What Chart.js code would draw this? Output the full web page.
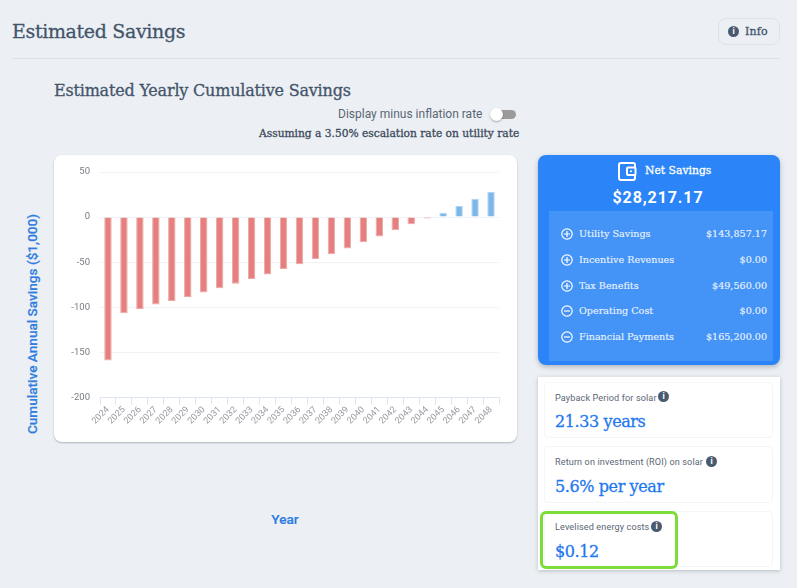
<!DOCTYPE html>
<html>
<head>
<meta charset="utf-8">
<title>Estimated Savings</title>
<script src="https://cdn.jsdelivr.net/npm/chart.js@4"></script>
<style>
html,body{margin:0;padding:0;width:797px;height:588px;overflow:hidden;background:#ecf0f4;}
body{position:relative;font-family:"DejaVu Serif",serif;color:#44546a;}
.t{position:absolute;white-space:nowrap;line-height:1;}
.bold{-webkit-text-stroke:.3px currentColor;}
.sans{font-family:Roboto,sans-serif;}
.box{position:absolute;box-sizing:border-box;}
.inf{position:absolute;width:11px;height:11px;border-radius:50%;background:#4a5a70;color:#fff;font:bold 8.5px/11px Roboto,sans-serif;text-align:center;}
.axis{position:absolute;white-space:nowrap;line-height:1;font:500 13.6px Roboto,sans-serif;color:#2f7de0;-webkit-text-stroke:.2px currentColor;}
svg.ic{position:absolute;}
canvas{display:block;}
</style>
</head>
<body>
<div class="t bold" style="left:12px;top:22px;font-size:19px;letter-spacing:-.35px">Estimated Savings</div>
<div class="box" style="left:12px;top:58px;width:768px;height:1px;background:#dce1e6"></div>
<div class="box" style="left:718px;top:18px;width:62px;height:27px;border:1px solid #dde2e8;border-radius:8px"></div>
<div class="inf" style="left:728px;top:26px">i</div>
<div class="t bold" style="left:745px;top:26px;font-size:11px;letter-spacing:.2px">Info</div>

<div class="t bold" style="left:54px;top:83px;font-size:16px;letter-spacing:-.2px">Estimated Yearly Cumulative Savings</div>
<div class="t sans" style="left:338px;top:108px;font-size:12px;color:#5b6675">Display minus inflation rate</div>
<div class="box" style="left:496px;top:110px;width:20px;height:9px;border-radius:5px;background:#9b9b9b"></div>
<div class="box" style="left:490px;top:108px;width:13px;height:13px;border-radius:50%;background:#fff;box-shadow:0 1px 2px rgba(0,0,0,.3)"></div>
<div class="t bold" style="left:259px;top:129px;font-size:10.7px;letter-spacing:-.02px;color:#3c4a5c">Assuming a 3.50% escalation rate on utility rate</div>

<div class="box" style="left:54px;top:155px;width:463px;height:287px;background:#fff;border-radius:8px;box-shadow:0 1px 2px rgba(60,70,90,.35)">
<canvas id="savingsChart" width="463" height="287"></canvas></div>
<div class="axis" style="left:32px;top:324px;transform:translate(-50%,-50%) rotate(-90deg)">Cumulative Annual Savings ($1,000)</div>
<div class="axis" style="left:285px;top:519px;transform:translate(-50%,-50%)">Year</div>

<div class="box" style="left:538px;top:155px;width:242px;height:210px;background:#2b85f8;border-radius:8px;box-shadow:0 2px 5px rgba(60,70,90,.35)"></div>
<div class="box" style="left:549px;top:211px;width:224px;height:150px;background:#4493f6"></div>
<svg class="ic" style="left:618px;top:162px" width="19" height="19" viewBox="0 0 19 19" fill="none" stroke="#fff" stroke-width="2"><path d="M17 5V3a2 2 0 0 0-2-2H3a2 2 0 0 0-2 2v13a2 2 0 0 0 2 2h12a2 2 0 0 0 2-2v-3"/><rect x="9" y="5.5" width="8.5" height="7.5" rx="1"/><circle cx="13" cy="9.2" r="1" fill="#fff" stroke="none"/></svg>
<div class="t bold" style="left:645px;top:166px;font-size:10.8px;color:#fff">Net Savings</div>
<div class="t sans" style="left:538px;width:240px;text-align:center;top:190px;font-size:16px;font-weight:700;color:#fff;letter-spacing:.9px">$28,217.17</div>
<div id="rows"></div>

<div class="box" style="left:538px;top:377px;width:242px;height:193px;background:#fff;box-shadow:0 1px 4px rgba(60,70,90,.3)"></div>
<div class="box" style="left:544px;top:382px;width:229px;height:56px;border:1px solid #f3f5f7;border-radius:4px"></div>
<div class="box" style="left:544px;top:446px;width:229px;height:57px;border:1px solid #f3f5f7;border-radius:4px"></div>
<div class="box" style="left:544px;top:511px;width:229px;height:56px;border:1px solid #f3f5f7;border-radius:4px"></div>
<div class="box" style="left:540px;top:511px;width:138px;height:58px;border:3px solid #7edc3a;border-radius:6px"></div>
<div class="t sans" style="left:555px;top:394px;font-size:9.1px;letter-spacing:.12px;color:#5b6675">Payback Period for solar</div>
<div class="inf" style="left:658px;top:391px">i</div>
<div class="t bold" style="left:555px;top:414px;font-size:16px;color:#1e78f0;letter-spacing:-.4px">21.33 years</div>
<div class="t sans" style="left:555px;top:458px;font-size:9.1px;letter-spacing:.12px;color:#5b6675">Return on investment (ROI) on solar</div>
<div class="inf" style="left:706px;top:456px">i</div>
<div class="t bold" style="left:555px;top:479px;font-size:16px;color:#1e78f0;letter-spacing:-.4px">5.6% per year</div>
<div class="t sans" style="left:555px;top:523px;font-size:9.1px;letter-spacing:.12px;color:#5b6675">Levelised energy costs</div>
<div class="inf" style="left:651px;top:521px">i</div>
<div class="t bold" style="left:555px;top:544px;font-size:16px;color:#1e78f0;letter-spacing:-.4px">$0.12</div>

<script>
// values in $1,000
const years = ['2024','2025','2026','2027','2028','2029','2030','2031','2032','2033','2034','2035','2036','2037','2038','2039','2040','2041','2042','2043','2044','2045','2046','2047','2048'];
const savings = [-159,-106.5,-102,-97,-93,-88.5,-83.5,-79,-74,-68.6,-63.5,-57.6,-52.4,-46.5,-41,-34.7,-28,-21.4,-14.7,-8,-1.5,4.8,12.2,20.3,28.2];
const rowLabels = ['Utility Savings','Incentive Revenues','Tax Benefits','Operating Cost','Financial Payments'];
const rowValues = ['$143,857.17','$0.00','$49,560.00','$0.00','$165,200.00'];
const rowSigns = ['+','+','+','-','-'];

// breakdown rows in the blue card
let html = '';
rowLabels.forEach(function(label, i){
    const y = 234 + i * 25.75;
    const bar = rowSigns[i] === '+' ? '<path d="M6 3v6M3 6h6"/>' : '<path d="M3 6h6"/>';
    html += '<svg class="ic" style="left:561px;top:' + (y - 6) + 'px" width="12" height="12" viewBox="0 0 12 12" fill="none" stroke="#fff" stroke-width="1.2"><circle cx="6" cy="6" r="5.2"/>' + bar + '</svg>';
    html += '<div class="t bold" style="-webkit-text-stroke-width:.15px;left:579px;top:' + (y - 5) + 'px;font-size:9.6px;color:#e8f2ff">' + label + '</div>';
    html += '<div class="t bold" style="-webkit-text-stroke-width:.15px;right:30px;top:' + (y - 5) + 'px;font-size:9.6px;color:#e8f2ff">' + rowValues[i] + '</div>';
});
document.getElementById('rows').innerHTML = html;

new Chart(document.getElementById('savingsChart'), {
    type: 'bar',
    data: {
        labels: years,
        datasets: [{
            label: 'Cumulative Annual Savings',
            data: savings,
            backgroundColor: function(c){ return c.raw < 0 ? '#e58080' : '#7db7ea'; },
            borderColor: function(c){ return c.raw < 0 ? '#f0a8a8' : '#b0d4f2'; },
            borderWidth: 1,
            barPercentage: 0.9,
            categoryPercentage: 0.52
        }]
    },
    options: {
        responsive: false,
        animation: false,
        plugins: { legend: { display: false }, tooltip: { enabled: false } },
        layout: { padding: { left: 0, right: 18, top: 17, bottom: 0 } },
        scales: {
            x: {
                afterFit: function(s){ s.height = 44.5; },
                grid: { drawOnChartArea: false, drawTicks: true, tickLength: 7, tickColor: '#dfe5f0' },
                border: { color: '#dfe5f0' },
                ticks: { color: '#95999f', font: { family: 'Roboto', size: 9 }, minRotation: 45, maxRotation: 45, autoSkip: false, padding: 0 }
            },
            y: {
                min: -200,
                max: 50,
                afterFit: function(s){ s.width = 46; },
                grid: { color: '#f1f2f4', drawTicks: false },
                border: { display: false },
                ticks: { stepSize: 50, color: '#777c83', font: { family: 'Roboto', size: 9.5 }, padding: 10 }
            }
        }
    }
});
</script>
</body>
</html>
